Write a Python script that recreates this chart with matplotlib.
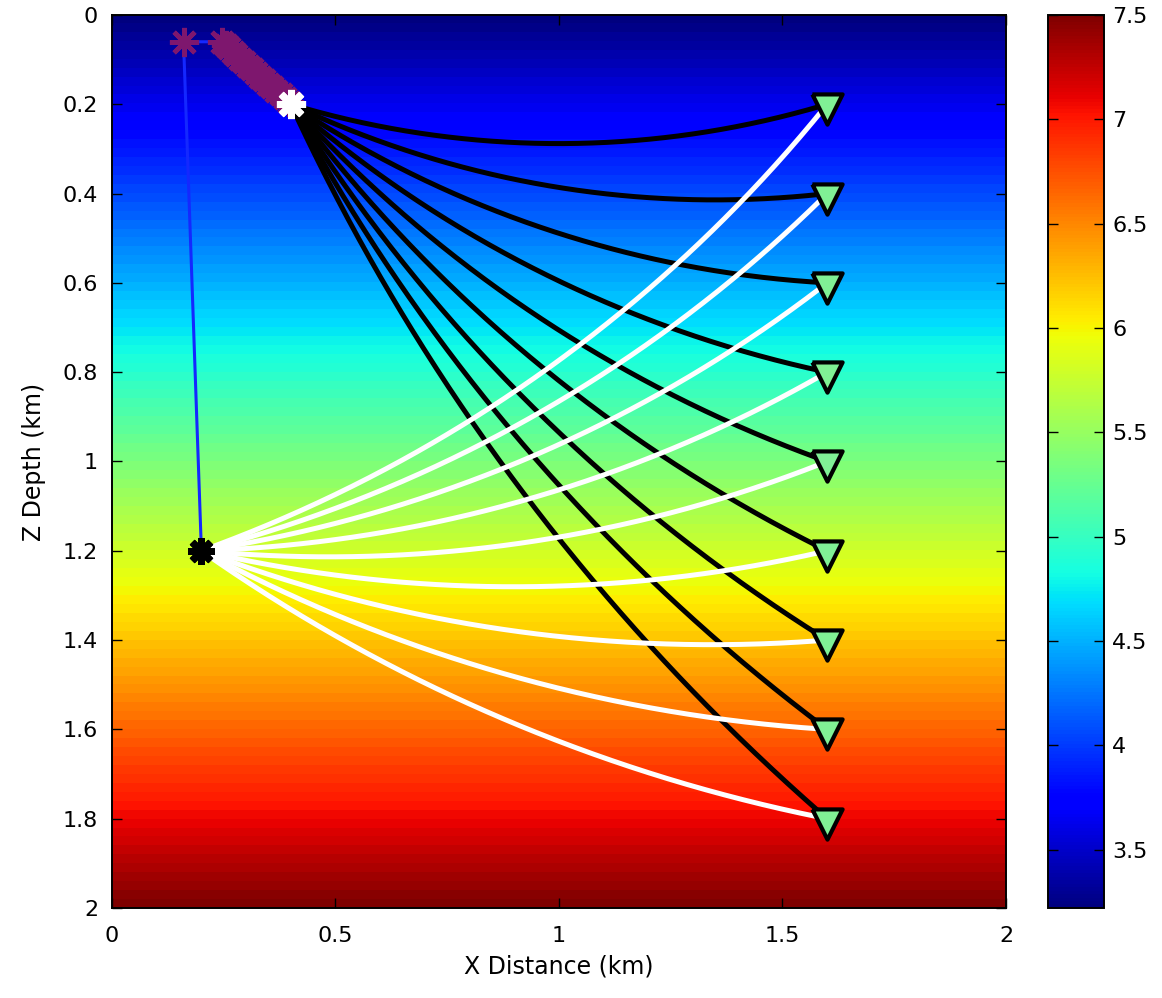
import numpy as np
import matplotlib
matplotlib.use('Agg')
import matplotlib.pyplot as plt

plt.rcParams['font.family'] = ['DejaVu Sans']

# velocity model (km/s), layered gradient from top to bottom of the grid
vel_top, vel_bottom = 3.22, 7.5
n_layers = 100
depth_max, dist_max = 2.0, 2.0

# ray arcs are circles centred at this depth (linear gradient medium)
ray_center_depth = -1.8

# sources
true_src = (0.4, 0.2)
start_src = (0.2, 1.2)

# location iterations (start -> true)
iter_x = [0.2, 0.16, 0.245, 0.255, 0.262, 0.270, 0.278, 0.287, 0.296, 0.305, 0.314,
          0.323, 0.332, 0.341, 0.350, 0.359, 0.368, 0.377, 0.386, 0.395]
iter_z = [1.2, 0.06, 0.060, 0.068, 0.075, 0.082, 0.090, 0.098, 0.106, 0.114, 0.122,
          0.130, 0.138, 0.146, 0.154, 0.162, 0.170, 0.178, 0.186, 0.194]

# receivers
rec_x = [1.6] * 9
rec_z = [0.2, 0.4, 0.6, 0.8, 1.0, 1.2, 1.4, 1.6, 1.8]

xticks = [0, 0.5, 1, 1.5, 2]
xticklabels = ['0', '0.5', '1', '1.5', '2']
yticks = [0, 0.2, 0.4, 0.6, 0.8, 1.0, 1.2, 1.4, 1.6, 1.8, 2.0]
yticklabels = ['0', '0.2', '0.4', '0.6', '0.8', '1', '1.2', '1.4', '1.6', '1.8', '2']
cticks = [3.5, 4, 4.5, 5, 5.5, 6, 6.5, 7, 7.5]
cticklabels = ['3.5', '4', '4.5', '5', '5.5', '6', '6.5', '7', '7.5']


def arc(src, rec, zc, n=300):
    xs, zs = src
    xr, zr = rec
    xc = ((xr**2 - xs**2) + (zr - zc)**2 - (zs - zc)**2) / (2 * (xr - xs))
    r = np.hypot(xs - xc, zs - zc)
    x = np.linspace(xs, xr, n)
    z = zc + np.sqrt(np.maximum(r**2 - (x - xc)**2, 0))
    return x, z


vel = np.linspace(vel_top, vel_bottom, n_layers).reshape(-1, 1)

# downward triangle centred on its centroid (like matlab's 'v')
tri = [(-1, 2 / 3), (1, 2 / 3), (0, -4 / 3), (-1, 2 / 3)]
star = (8, 2, 0)

fig = plt.figure(figsize=(11.62, 9.98), dpi=100)
ax = fig.add_axes([0.0964, 0.0902, 0.7693, 0.8948])
cax = fig.add_axes([0.9019, 0.0902, 0.0482, 0.8948])

im = ax.imshow(vel, cmap='jet', aspect='auto', interpolation='nearest',
               extent=[0, dist_max, depth_max, 0], vmin=vel_top, vmax=vel_bottom)

for xr, zr in zip(rec_x, rec_z):
    x, z = arc(true_src, (xr, zr), ray_center_depth)
    ax.plot(x, z, color='black', lw=3.6, zorder=3, solid_capstyle='butt')
for xr, zr in zip(rec_x, rec_z):
    x, z = arc(start_src, (xr, zr), ray_center_depth)
    ax.plot(x, z, color='white', lw=3.6, zorder=4, solid_capstyle='butt')

# iteration path
ax.plot(iter_x, iter_z, color='#1428ff', lw=2.2, zorder=5)
ax.plot(iter_x[1:], iter_z[1:], ls='none', marker=star, ms=21, mew=3.4,
        color='#7e176e', zorder=6)
ax.plot(*true_src, marker=star, ms=21, mew=5, color='white', zorder=7)
ax.plot(*start_src, marker=star, ms=19, mew=5, color='black', zorder=7)

ax.plot(rec_x, rec_z, ls='none', marker=tri, ms=29, mfc='#80f095', mec='black',
        mew=3, zorder=8, clip_on=False)

ax.set_xlim(0, dist_max)
ax.set_ylim(depth_max, 0)
ax.set_xticks(xticks)
ax.set_xticklabels(xticklabels)
ax.set_yticks(yticks)
ax.set_yticklabels(yticklabels)
ax.tick_params(direction='in', top=True, right=True, length=7, width=1,
               labelsize=16)
ax.tick_params(axis='x', pad=13)
ax.tick_params(axis='y', pad=10)
ax.set_xlabel('X Distance (km)', fontsize=17, labelpad=6)
ax.set_ylabel('Z Depth (km)', fontsize=17, labelpad=12)
for s in ax.spines.values():
    s.set_linewidth(1.4)

cb = fig.colorbar(im, cax=cax, ticks=cticks)
cb.ax.set_yticklabels(cticklabels)
cb.ax.tick_params(direction='in', left=True, right=True, length=7, width=1,
                  labelsize=16, pad=6)
cb.outline.set_linewidth(1.4)

# title mostly outside the frame, as in the source image
fig.text(0.642, 1.004, 'Velocity (km/s)', ha='right', va='baseline', fontsize=15)

fig.savefig('out.png', dpi=100)
